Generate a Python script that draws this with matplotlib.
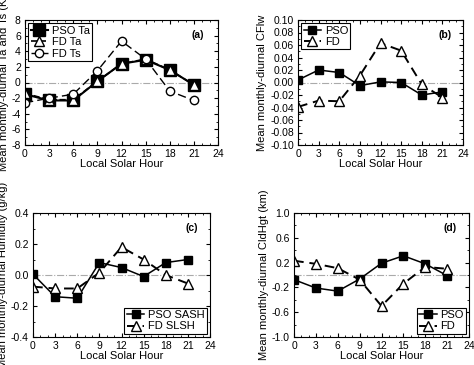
import matplotlib.pyplot as plt
from matplotlib.ticker import AutoMinorLocator

plt.rcParams["font.family"] = ["Liberation Sans", "DejaVu Sans"]
plt.rcParams["font.size"] = 7.5

hours = [0, 3, 6, 9, 12, 15, 18, 21]

# (a) temperature
pso_ta = [-1.5, -2.3, -2.3, 0.15, 2.4, 2.9, 1.6, -0.3]
fd_ta = [-1.4, -2.2, -2.2, 0.15, 2.4, 3.0, 1.6, -0.3]
fd_ts = [-2.6, -2.0, -1.5, 1.5, 5.3, 3.0, -1.1, -2.3]

# (b) CFlw
pso_cf = [0.004, 0.020, 0.016, -0.005, 0.001, 0.0, -0.020, -0.015]
fd_cf = [-0.039, -0.029, -0.030, 0.011, 0.063, 0.051, -0.003, -0.024]

# (c) humidity
pso_sash = [0.005, -0.14, -0.15, 0.08, 0.048, -0.01, 0.08, 0.10]
fd_slsh = [-0.075, -0.087, -0.087, 0.015, 0.18, 0.10, 0.0, -0.055]

# (d) cloud height
pso_cld = [-0.075, -0.21, -0.26, -0.065, 0.19, 0.31, 0.18, -0.01]
fd_cld = [0.23, 0.18, 0.11, -0.075, -0.5, -0.14, 0.13, 0.10]

fig = plt.figure(figsize=(4.74, 3.65), dpi=100)
W, H = 474.0, 365.0

def make_ax(l, r, t, b):
    return fig.add_axes([l / W, 1 - b / H, (r - l) / W, (b - t) / H])

def style(ax, ylim, yticks, ylabels, tag):
    ax.set_xlim(0, 24)
    ax.set_xticks(range(0, 25, 3))
    ax.set_ylim(*ylim)
    ax.set_yticks(yticks)
    ax.set_yticklabels(ylabels)
    ax.xaxis.set_minor_locator(AutoMinorLocator(3))
    ax.yaxis.set_minor_locator(AutoMinorLocator(2))
    ax.tick_params(which="both", direction="in", top=True, right=True, labelsize=7.5, pad=3)
    ax.tick_params(which="major", length=3)
    ax.tick_params(which="minor", length=1.5)
    ax.axhline(0, color="#aaaaaa", lw=0.8, ls="-.", zorder=0)
    ax.set_xlabel("Local Solar Hour", fontsize=8, labelpad=0)
    ax.text(0.93, 0.88, tag, transform=ax.transAxes, ha="right", va="center",
            fontsize=7.5, fontweight="bold")
    for s in ax.spines.values():
        s.set_linewidth(0.8)

def legend(ax, loc):
    lg = ax.legend(loc=loc, fontsize=8, handlelength=1.6, handletextpad=0.3,
                   borderpad=0.2, labelspacing=0.15, borderaxespad=0.3,
                   fancybox=False, framealpha=1)
    lg.get_frame().set_edgecolor("black")
    lg.get_frame().set_linewidth(0.8)

# panel (a)
ax = make_ax(25, 218, 20, 145)
ax.plot(hours, pso_ta, "-", color="black", lw=1.5, marker="s", ms=9,
        mfc="black", mec="black", label="PSO Ta")
ax.plot(hours, fd_ta, "--", color="black", lw=1.2, marker="^", ms=7.5,
        mfc="white", mec="black", mew=1, label="FD Ta")
ax.plot(hours, fd_ts, color="black", lw=1, dashes=(6, 3), marker="o", ms=6,
        mfc="white", mec="black", mew=1, label="FD Ts")
style(ax, (-8, 8), range(-8, 9, 2), [str(v) for v in range(-8, 9, 2)], "(a)")
ax.set_ylabel("Mean monthly-diurnal Ta and Ts (K)", fontsize=8, labelpad=2)
legend(ax, "upper left")

# panel (b)
ax = make_ax(298, 463, 20, 145)
ax.plot(hours, pso_cf, "-", color="black", lw=1.1, marker="s", ms=5.5,
        mfc="black", mec="black", label="PSO")
ax.plot(hours, fd_cf, color="black", lw=1.4, dashes=(5, 3), marker="^", ms=7.5,
        mfc="white", mec="black", mew=1, label="FD")
yt = [round(-0.10 + 0.02 * i, 2) for i in range(11)]
style(ax, (-0.1, 0.1), yt, ["%.2f" % v for v in yt], "(b)")
ax.set_ylabel("Mean monthly-diurnal CFlw", fontsize=8, labelpad=2)
legend(ax, "upper left")

# panel (c)
ax = make_ax(33, 210, 213, 337)
ax.plot(hours, pso_sash, "-", color="black", lw=1.1, marker="s", ms=5.5,
        mfc="black", mec="black", label="PSO SASH")
ax.plot(hours, fd_slsh, color="black", lw=1.4, dashes=(5, 3), marker="^", ms=7.5,
        mfc="white", mec="black", mew=1, label="FD SLSH")
yt = [-0.4, -0.2, 0.0, 0.2, 0.4]
style(ax, (-0.4, 0.4), yt, ["%.1f" % v for v in yt], "(c)")
ax.set_ylabel("Mean monthly-diurnal Humidity (g/kg)", fontsize=8, labelpad=2)
legend(ax, "lower right")

# panel (d)
ax = make_ax(294, 469, 213, 337)
ax.plot(hours, pso_cld, "-", color="black", lw=1.1, marker="s", ms=5.5,
        mfc="black", mec="black", label="PSO")
ax.plot(hours, fd_cld, color="black", lw=1.4, dashes=(5, 3), marker="^", ms=7.5,
        mfc="white", mec="black", mew=1, label="FD")
yt = [-1.0, -0.6, -0.2, 0.2, 0.6, 1.0]
style(ax, (-1.0, 1.0), yt, ["%.1f" % v for v in yt], "(d)")
ax.set_ylabel("Mean monthly-diurnal CldHgt (km)", fontsize=8, labelpad=2)
legend(ax, "lower right")

fig.savefig("out.png", dpi=100)
